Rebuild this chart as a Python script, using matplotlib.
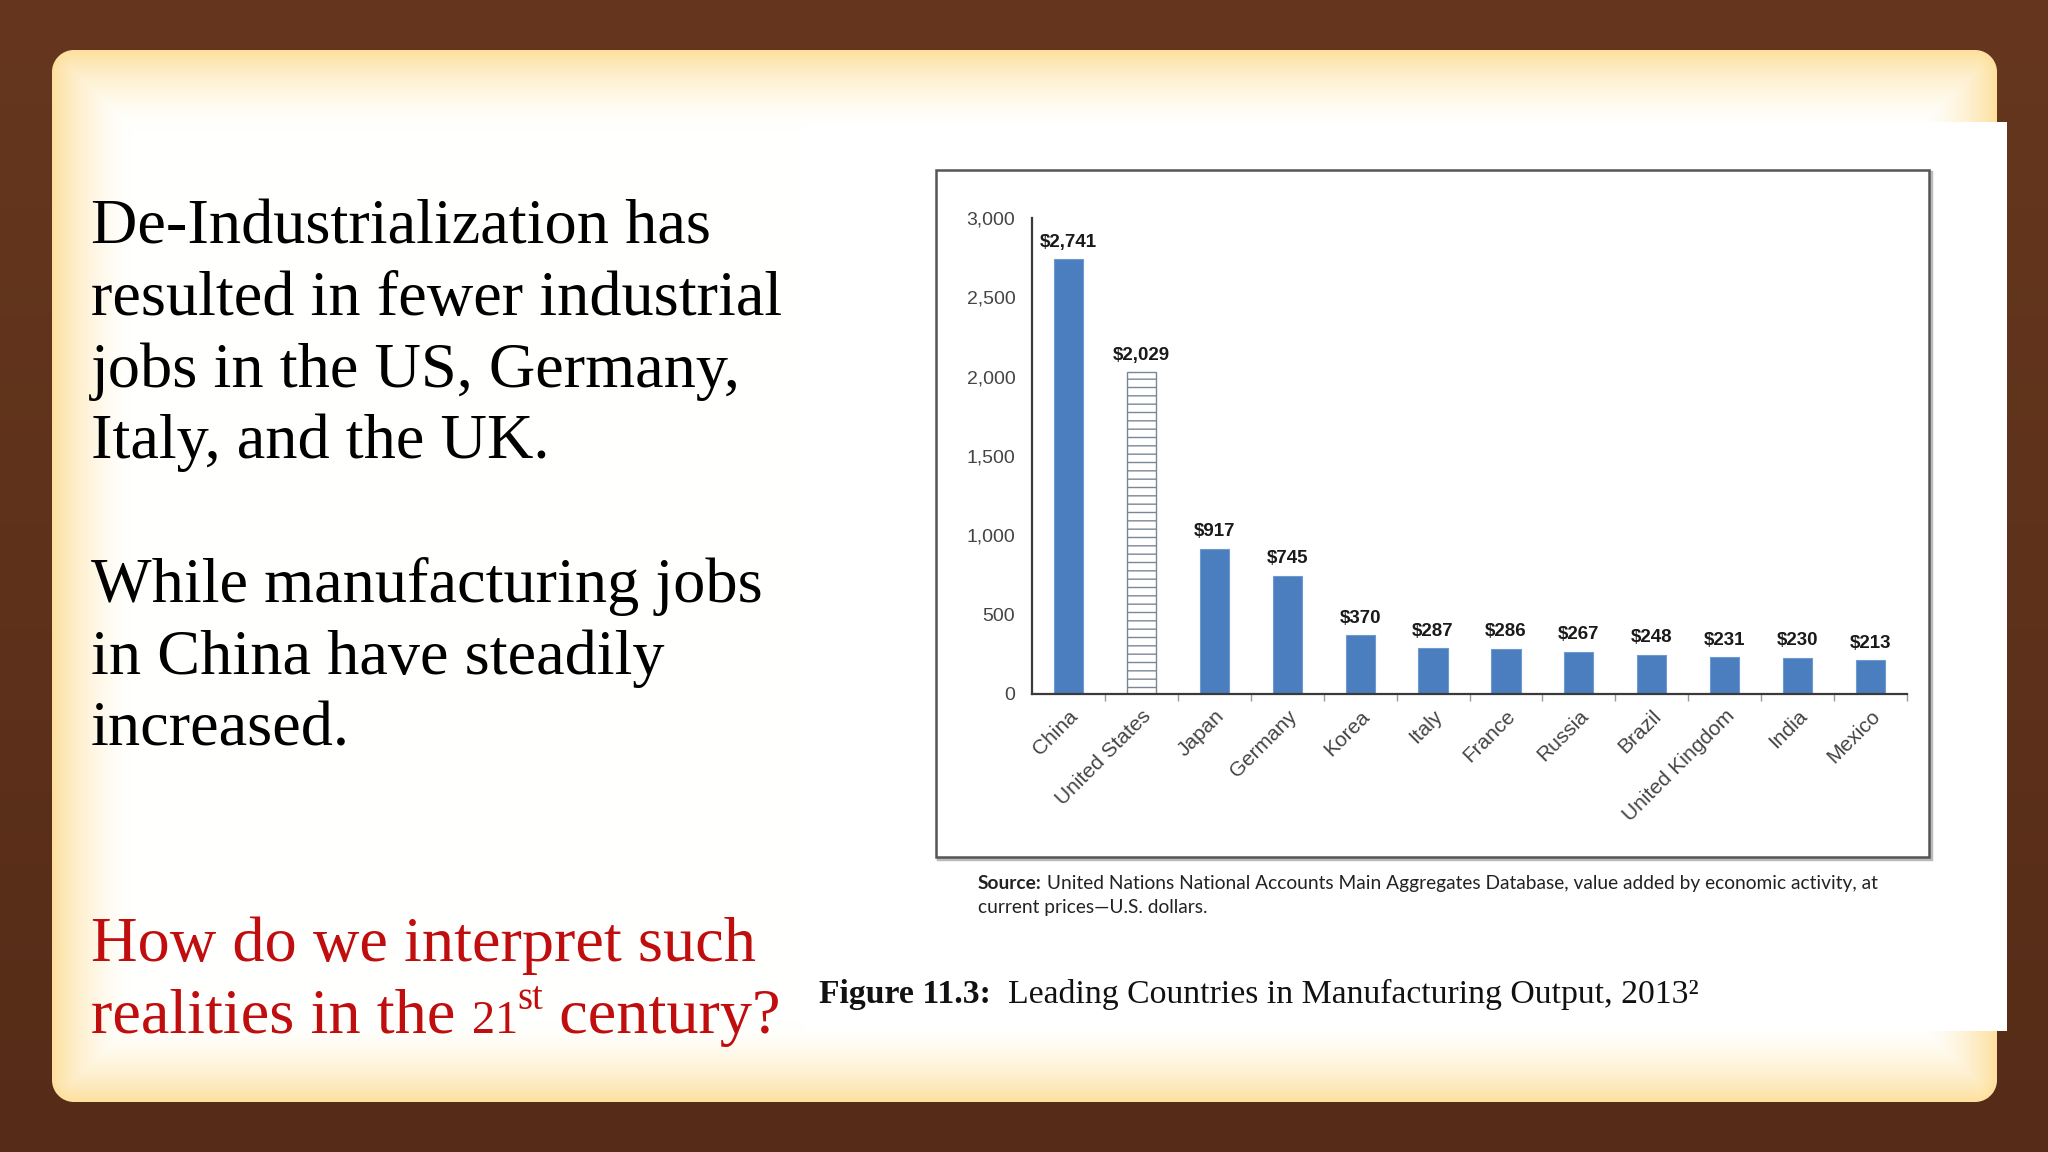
import numpy as np
import matplotlib
matplotlib.use("Agg")
import matplotlib.pyplot as plt
from matplotlib.patches import Rectangle

# ---------------- data ----------------
countries = ["China", "United States", "Japan", "Germany", "Korea", "Italy",
             "France", "Russia", "Brazil", "United Kingdom", "India", "Mexico"]
output_bn = [2741, 2029, 917, 745, 370, 287, 286, 267, 248, 231, 230, 213]
value_labels = ["$2,741", "$2,029", "$917", "$745", "$370", "$287", "$286",
                "$267", "$248", "$231", "$230", "$213"]
yticks = [0, 500, 1000, 1500, 2000, 2500, 3000]
ytick_labels = ["0", "500", "1,000", "1,500", "2,000", "2,500", "3,000"]

para1 = ["De-Industrialization has", "resulted in fewer industrial",
         "jobs in the US, Germany,", "Italy, and the UK."]
para2 = ["While manufacturing jobs", "in China have steadily", "increased."]
question1 = "How do we interpret such"
question2_parts = ["realities in the ", "21", "st", " century?"]
source_line1_bold = "Source:"
source_line1 = " United Nations National Accounts Main Aggregates Database, value added by economic activity, at"
source_line2 = "current prices\u2014U.S. dollars."
caption_bold = "Figure 11.3:"
caption_rest = "  Leading Countries in Manufacturing Output, 2013\u00b2"

plt.rcParams['hatch.color'] = "#6a7078"

W, H = 2048, 1152
fig = plt.figure(figsize=(W / 100, H / 100), dpi=100)
renderer = fig.canvas.get_renderer()

# ---------------- background ----------------
ax_bg = fig.add_axes([0, 0, 1, 1])
ax_bg.set_xlim(0, W)
ax_bg.set_ylim(H, 0)
ax_bg.axis("off")

yy, xx = np.mgrid[0:H, 0:W] + 0.5
brown_top = np.array([102, 55, 30]) / 255
brown_bot = np.array([86, 44, 24]) / 255
tv = (yy / H)[..., None]
img = brown_top * (1 - tv) + brown_bot * tv

# rounded card
cx0, cy0, cx1, cy1, r = 52, 50, 1997, 1102, 22
ccx, ccy = (cx0 + cx1) / 2, (cy0 + cy1) / 2
hx, hy = (cx1 - cx0) / 2 - r, (cy1 - cy0) / 2 - r
qx = np.abs(xx - ccx) - hx
qy = np.abs(yy - ccy) - hy
outside = np.hypot(np.maximum(qx, 0), np.maximum(qy, 0))
inside = np.minimum(np.maximum(qx, qy), 0)
sd = outside + inside - r
depth = np.clip(-sd, 0, None)
t = np.clip(1 - depth / 80.0, 0, 1) ** 1.7
yellow = np.array([253, 224, 158]) / 255
white = np.array([255, 255, 253]) / 255
card = white * (1 - t[..., None]) + yellow * t[..., None]
alpha = np.clip(0.5 - sd, 0, 1)[..., None]
img = img * (1 - alpha) + card * alpha
ax_bg.imshow(img, extent=(0, W, H, 0), interpolation="bilinear", zorder=0)

# white picture panel
ax_bg.add_patch(Rectangle((805, 122), 2007 - 805, 1031 - 122, facecolor="white",
                          edgecolor="none", zorder=1))
# chart frame (with faint shadow)
ax_bg.add_patch(Rectangle((938, 172), 1929 - 936, 857 - 170, facecolor="none",
                          edgecolor="#bbbbbb", lw=2.5, zorder=2))
ax_bg.add_patch(Rectangle((936, 170), 1929 - 936, 857 - 170, facecolor="white",
                          edgecolor="#555555", lw=1.8, zorder=2))

# ---------------- left text ----------------
serif = "Liberation Serif"
base0, step = 243, 71.8
fs_main = 46.3
red = "#c00d0d"
for k, line in enumerate(para1):
    ax_bg.text(91, base0 + step * k, line, fontsize=fs_main, family=serif,
               color="black", va="baseline", ha="left", zorder=3)
for k, line in enumerate(para2):
    ax_bg.text(91, base0 + step * (k + 5), line, fontsize=fs_main, family=serif,
               color="black", va="baseline", ha="left", zorder=3)
ax_bg.text(91, base0 + step * 10, question1, fontsize=fs_main, family=serif,
           color=red, va="baseline", ha="left", zorder=3)

# second red line: old-style "21" and superscript "st", laid out piece by piece
yb = base0 + step * 11
em = fs_main * 100 / 72
sizes = [fs_main, fs_main * 0.72, fs_main * 0.6, fs_main]
raises = [0, 0, 0.37 * em, 0]
xcur = 91
for part, fsz, rise in zip(question2_parts, sizes, raises):
    tt = ax_bg.text(xcur, yb - rise, part, fontsize=fsz, family=serif,
                    color=red, va="baseline", ha="left", zorder=3)
    xcur = tt.get_window_extent(renderer).x1

# ---------------- source + caption ----------------
sfont = "Lato"
sfs = 13.8
s1 = ax_bg.text(978, 889, source_line1_bold, fontsize=sfs, family=sfont,
                weight="bold", color="#222222", va="baseline", zorder=3)
xs = s1.get_window_extent(renderer).x1
ax_bg.text(xs, 889, source_line1, fontsize=sfs, family=sfont,
           color="#222222", va="baseline", ha="left", zorder=3)
ax_bg.text(978, 913, source_line2, fontsize=sfs, family=sfont, color="#222222",
           va="baseline", zorder=3)

c1 = ax_bg.text(819, 1003, caption_bold, fontsize=24.3, family=serif,
                weight="bold", color="#111111", va="baseline", zorder=3)
xc = c1.get_window_extent(renderer).x1
ax_bg.text(xc, 1003, caption_rest, fontsize=24.3, family=serif,
           color="#111111", va="baseline", ha="left", zorder=3)

# ---------------- chart ----------------
L, R, B, T = 1032, 1907, 694, 218
ax = fig.add_axes([L / W, 1 - B / H, (R - L) / W, (B - T) / H])
ax.set_facecolor("none")
x = np.arange(len(countries))
colors = ["#4a7ebf"] * len(countries)
bars = ax.bar(x, output_bn, width=0.4, color=colors, edgecolor="#6f9ad0",
              linewidth=0.8, zorder=2)
us = bars[1]
us.set_facecolor("white")
us.set_edgecolor("#7a8794")
us.set_hatch("--")
us.set_linewidth(1.0)

for xi, v, lab in zip(x, output_bn, value_labels):
    ax.annotate(lab, xy=(xi, v), xytext=(0, 6), textcoords="offset points",
                ha="center", va="bottom", fontsize=13.5, weight="bold",
                family="Liberation Sans", color="#1a1a1a")

ax.set_xlim(-0.5, len(countries) - 0.5)
ax.set_ylim(0, 3000)
ax.set_yticks(yticks)
ax.set_yticklabels(ytick_labels, fontsize=14, family="Liberation Sans",
                   color="#444444")
ax.set_xticks(x)
ax.set_xticklabels(countries, rotation=45, ha="right", rotation_mode="anchor",
                   fontsize=15, family="Liberation Sans", color="#444444")
ax.set_xticks(np.arange(-0.5, len(countries), 1.0)[1:], minor=True)
ax.tick_params(axis="y", length=0, pad=12)
ax.tick_params(axis="x", which="major", length=0, pad=9)
ax.tick_params(axis="x", which="minor", length=5, width=1, color="#999999",
               direction="out")
for s in ["top", "right"]:
    ax.spines[s].set_visible(False)
for s in ["left", "bottom"]:
    ax.spines[s].set_color("#3a3a3a")
    ax.spines[s].set_linewidth(1.6)

fig.savefig("out.png", dpi=100)
